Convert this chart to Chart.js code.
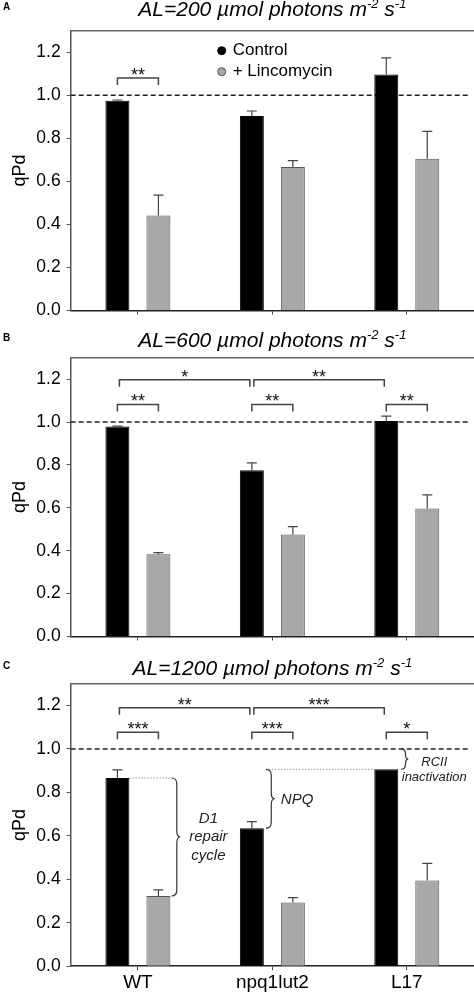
<!DOCTYPE html>
<html>
<head>
<meta charset="utf-8">
<script src="https://cdn.jsdelivr.net/npm/chart.js@4.4.1/dist/chart.umd.min.js"></script>
<style>
  html, body { margin: 0; padding: 0; background: #fff; }
  #wrap { position: relative; width: 474px; height: 993px; }
  canvas { position: absolute; left: 0; }
</style>
</head>
<body>
<div id="wrap">
  <canvas id="panelA" width="474" height="327" style="top:0px"></canvas>
  <canvas id="panelB" width="474" height="326" style="top:327px"></canvas>
  <canvas id="panelC" width="474" height="340" style="top:653px"></canvas>
</div>
<script>
// categories and series
const genotypes = ['WT', 'npq1lut2', 'L17'];
const seriesNames = ['Control', '+ Lincomycin'];
const yTicks = [0, 0.2, 0.4, 0.6, 0.8, 1.0, 1.2];
const refLevel = 1.0;

// actinic light of each panel, title = AL=… µmol photons m-2 s-1
const lightLevels = [200, 600, 1200];
const panelLetters = ['A', 'B', 'C'];

// qPd values, errors are the upper SE whiskers
const controlA = [0.975, 0.904, 1.097];
const controlErrA = [0.003, 0.023, 0.077];
const lincoA = [0.441, 0.667, 0.705];
const lincoErrA = [0.095, 0.029, 0.127];

const controlB = [0.979, 0.775, 1.005];
const controlErrB = [0.002, 0.035, 0.023];
const lincoB = [0.384, 0.476, 0.597];
const lincoErrB = [0.007, 0.036, 0.063];

const controlC = [0.866, 0.635, 0.906];
const controlErrC = [0.037, 0.030, 0];
const lincoC = [0.323, 0.293, 0.394];
const lincoErrC = [0.028, 0.023, 0.079];

// significance brackets: [category, series] -> [category, series]
const bracketsA = [
    { from: [0, 0], to: [0, 1], y: 1.08, stars: '**' }
];
const bracketsB = [
    { from: [0, 0], to: [0, 1], y: 1.082, stars: '**' },
    { from: [1, 0], to: [1, 1], y: 1.082, stars: '**' },
    { from: [2, 0], to: [2, 1], y: 1.082, stars: '**' },
    { from: [0, 0], to: [1, 0], y: 1.197, stars: '*' },
    { from: [1, 0], to: [2, 0], y: 1.197, stars: '**' }
];
const bracketsC = [
    { from: [0, 0], to: [0, 1], y: 1.077, stars: '***' },
    { from: [1, 0], to: [1, 1], y: 1.077, stars: '***' },
    { from: [2, 0], to: [2, 1], y: 1.077, stars: '*' },
    { from: [0, 0], to: [1, 0], y: 1.189, stars: '**' },
    { from: [1, 0], to: [2, 0], y: 1.189, stars: '***' }
];

const FONT = '"Liberation Sans", Arial, Helvetica, sans-serif';
const BLACK = '#000000';
const GREY = '#a8a8a8';

function drawBrace(ctx, x, yTop, yBot, depth) {
    const ym = (yTop + yBot) / 2;
    const xv = x + depth * 0.6;
    const r = Math.min(6, (yBot - yTop) / 4);
    ctx.beginPath();
    ctx.moveTo(x, yTop);
    ctx.quadraticCurveTo(xv, yTop, xv, yTop + r);
    ctx.lineTo(xv, ym - r);
    ctx.quadraticCurveTo(xv, ym, x + depth, ym);
    ctx.quadraticCurveTo(xv, ym, xv, ym + r);
    ctx.lineTo(xv, yBot - r);
    ctx.quadraticCurveTo(xv, yBot, x, yBot);
    ctx.stroke();
}

// title with real superscripts
function drawTitle(ctx, level, cx, baseline) {
    const parts = [
        { t: 'AL=' + level + ' µmol photons m', sup: false },
        { t: '-2', sup: true },
        { t: ' s', sup: false },
        { t: '-1', sup: true }
    ];
    const fontFor = (p) => 'italic ' + (p.sup ? 13 : 21) + 'px ' + FONT;
    let total = 0;
    parts.forEach(p => { ctx.font = fontFor(p); p.w = ctx.measureText(p.t).width; total += p.w; });
    let x = cx - total / 2;
    ctx.fillStyle = '#000';
    ctx.textAlign = 'left';
    ctx.textBaseline = 'alphabetic';
    parts.forEach(p => {
        ctx.font = fontFor(p);
        ctx.fillText(p.t, x, p.sup ? baseline - 8 : baseline);
        x += p.w;
    });
}

const extras = {
    id: 'extras',
    beforeDatasetsDraw(chart) {
        const { ctx, chartArea: a, scales: { y } } = chart;
        ctx.save();
        // frame top line
        ctx.strokeStyle = '#666';
        ctx.lineWidth = 1.5;
        ctx.beginPath();
        ctx.moveTo(a.left, a.top);
        ctx.lineTo(a.right, a.top);
        ctx.stroke();
        // reference line at qPd = 1
        const yr = y.getPixelForValue(refLevel);
        ctx.strokeStyle = '#222';
        ctx.setLineDash([5, 3]);
        ctx.beginPath();
        ctx.moveTo(a.left, yr);
        ctx.lineTo(a.right - 4, yr);
        ctx.stroke();
        ctx.restore();
    },
    afterDatasetsDraw(chart, args, opts) {
        const { ctx, chartArea: a, scales: { y } } = chart;
        ctx.save();
        // error bars
        chart.data.datasets.forEach((ds, di) => {
            const meta = chart.getDatasetMeta(di);
            meta.data.forEach((bar, i) => {
                const e = ds.errors[i];
                if (!e) return;
                const y0 = y.getPixelForValue(ds.data[i]);
                const y1 = y.getPixelForValue(ds.data[i] + e);
                ctx.strokeStyle = '#444';
                ctx.lineWidth = 1.2;
                ctx.beginPath();
                ctx.moveTo(bar.x, y0);
                ctx.lineTo(bar.x, y1);
                ctx.moveTo(bar.x - 5, y1);
                ctx.lineTo(bar.x + 5, y1);
                ctx.stroke();
            });
        });
        // brackets
        const barAt = (p) => chart.getDatasetMeta(p[1]).data[p[0]];
        (opts.brackets || []).forEach(b => {
            let x1 = barAt(b.from).x;
            let x2 = barAt(b.to).x;
            if (b.from[0] !== b.to[0]) { x1 += 2; x2 -= 2; }
            const yb = y.getPixelForValue(b.y);
            ctx.strokeStyle = '#444';
            ctx.lineWidth = 1.5;
            ctx.beginPath();
            ctx.moveTo(x1, yb + 7);
            ctx.lineTo(x1, yb);
            ctx.lineTo(x2, yb);
            ctx.lineTo(x2, yb + 7);
            ctx.stroke();
            ctx.fillStyle = '#111';
            ctx.font = '18px ' + FONT;
            ctx.textAlign = 'center';
            ctx.textBaseline = 'alphabetic';
            ctx.fillText(b.stars, (x1 + x2) / 2, yb + 3);
        });
        // legend inside the plot
        if (opts.legend) {
            chart.data.datasets.forEach((ds, di) => {
                const lx = a.left + 151;
                const ly = a.top + 20 + di * 21;
                ctx.beginPath();
                ctx.arc(lx, ly, 4, 0, Math.PI * 2);
                ctx.fillStyle = ds.backgroundColor;
                ctx.fill();
                ctx.strokeStyle = ds.borderColor;
                ctx.lineWidth = 1;
                ctx.stroke();
                ctx.fillStyle = '#000';
                ctx.font = '17px ' + FONT;
                ctx.textAlign = 'left';
                ctx.textBaseline = 'middle';
                ctx.fillText(ds.label, lx + 11, ly);
            });
        }
        // explanatory braces (panel C)
        if (opts.notes) {
            const ctl = chart.getDatasetMeta(0).data;
            const lin = chart.getDatasetMeta(1).data;
            const ds0 = chart.data.datasets[0].data;
            const ds1 = chart.data.datasets[1].data;
            const yWT = y.getPixelForValue(ds0[0]);
            const yWTl = y.getPixelForValue(ds1[0]);
            const yNpq = y.getPixelForValue(ds0[1]);
            const yL17 = y.getPixelForValue(ds0[2]);
            const yRef = y.getPixelForValue(refLevel);

            const xD1 = lin[0].x + lin[0].width / 2 + 1;
            const xNpq = ctl[1].x + ctl[1].width / 2 + 2;
            const xRc = ctl[2].x + ctl[2].width / 2 + 3;

            ctx.strokeStyle = '#999';
            ctx.lineWidth = 1;
            ctx.setLineDash([1.5, 1.5]);
            ctx.beginPath();
            ctx.moveTo(ctl[0].x + ctl[0].width / 2, yWT);
            ctx.lineTo(xD1, yWT);
            ctx.moveTo(xNpq, yL17);
            ctx.lineTo(ctl[2].x - ctl[2].width / 2, yL17);
            ctx.stroke();
            ctx.setLineDash([]);

            ctx.strokeStyle = '#333';
            ctx.lineWidth = 1.2;
            drawBrace(ctx, xD1, yWT, yWTl, 9);
            drawBrace(ctx, xNpq, yL17, yNpq, 9);
            drawBrace(ctx, xRc, yRef, yL17, 7);

            ctx.fillStyle = '#222';
            ctx.textBaseline = 'middle';
            ctx.textAlign = 'center';
            ctx.font = 'italic 15px ' + FONT;
            const mD1 = (yWT + yWTl) / 2;
            ['D1', 'repair', 'cycle'].forEach((t, k) => ctx.fillText(t, xD1 + 37, mD1 + (k - 1) * 18.5));
            ctx.textAlign = 'left';
            ctx.fillText('NPQ', xNpq + 15, (yL17 + yNpq) / 2 + 1);
            ctx.textAlign = 'center';
            ctx.font = 'italic 13px ' + FONT;
            const mR = (yRef + yL17) / 2;
            ctx.fillText('RCII', xRc + 33, mR + 3);
            ctx.fillText('inactivation', xRc + 33, mR + 18);
        }
        // title and panel letter
        drawTitle(ctx, opts.level, (a.left + a.right) / 2, opts.titleBase);
        ctx.fillStyle = '#000';
        ctx.font = 'bold 10px ' + FONT;
        ctx.textAlign = 'left';
        ctx.textBaseline = 'alphabetic';
        ctx.fillText(opts.letter, 3, opts.titleBase - 6);
        ctx.restore();
    }
};

function makePanel(id, idx, ctrl, ctrlErr, linc, lincErr, brackets, cfg) {
    const canvas = document.getElementById(id);
    const xHeight = canvas.height - 313.2;
    return new Chart(canvas, {
        type: 'bar',
        data: {
            labels: genotypes,
            datasets: [
                { label: seriesNames[0], data: ctrl, errors: ctrlErr,
                  backgroundColor: BLACK, borderColor: '#000', borderWidth: 1 },
                { label: seriesNames[1], data: linc, errors: lincErr,
                  backgroundColor: GREY, borderColor: '#555', borderWidth: 1 }
            ]
        },
        options: {
            responsive: false,
            animation: false,
            layout: { padding: { top: 30.7 } },
            datasets: { bar: { categoryPercentage: 0.61, barPercentage: 0.585 } },
            plugins: {
                legend: { display: false },
                tooltip: { enabled: false },
                title: { display: false },
                extras: {
                    brackets: brackets,
                    legend: cfg.legend,
                    notes: cfg.notes,
                    letter: panelLetters[idx],
                    level: lightLevels[idx],
                    titleBase: cfg.titleBase
                }
            },
            scales: {
                x: {
                    offset: true,
                    grid: { offset: false, drawOnChartArea: false, drawTicks: true, tickLength: 4, color: '#444' },
                    border: { display: true, color: '#222', width: 1.5 },
                    ticks: {
                        display: cfg.xLabels,
                        color: '#000',
                        padding: 1,
                        font: { family: FONT, size: 19 }
                    },
                    afterFit: (s) => { s.height = xHeight; }
                },
                y: {
                    min: 0,
                    max: 1.3,
                    grid: { drawOnChartArea: false, drawTicks: true, tickLength: 4, color: '#555' },
                    border: { display: true, color: '#555', width: 1.5 },
                    afterBuildTicks: (s) => { s.ticks = yTicks.map(v => ({ value: v })); },
                    ticks: {
                        color: '#000',
                        padding: 6,
                        font: { family: FONT, size: 17.5 },
                        callback: (v) => Number(v).toFixed(1)
                    },
                    title: {
                        display: true,
                        text: 'qPd',
                        color: '#000',
                        font: { family: FONT, size: 18 },
                        padding: { top: 9, bottom: 0 }
                    },
                    afterFit: (s) => { s.width = 70.7; }
                }
            }
        },
        plugins: [extras]
    });
}

window.onload = () => {
    makePanel('panelA', 0, controlA, controlErrA, lincoA, lincoErrA, bracketsA,
        { titleBase: 16, legend: true, notes: false, xLabels: false });
    makePanel('panelB', 1, controlB, controlErrB, lincoB, lincoErrB, bracketsB,
        { titleBase: 19.7, legend: false, notes: false, xLabels: false });
    makePanel('panelC', 2, controlC, controlErrC, lincoC, lincoErrC, bracketsC,
        { titleBase: 22, legend: false, notes: true, xLabels: true });
};
</script>
</body>
</html>
